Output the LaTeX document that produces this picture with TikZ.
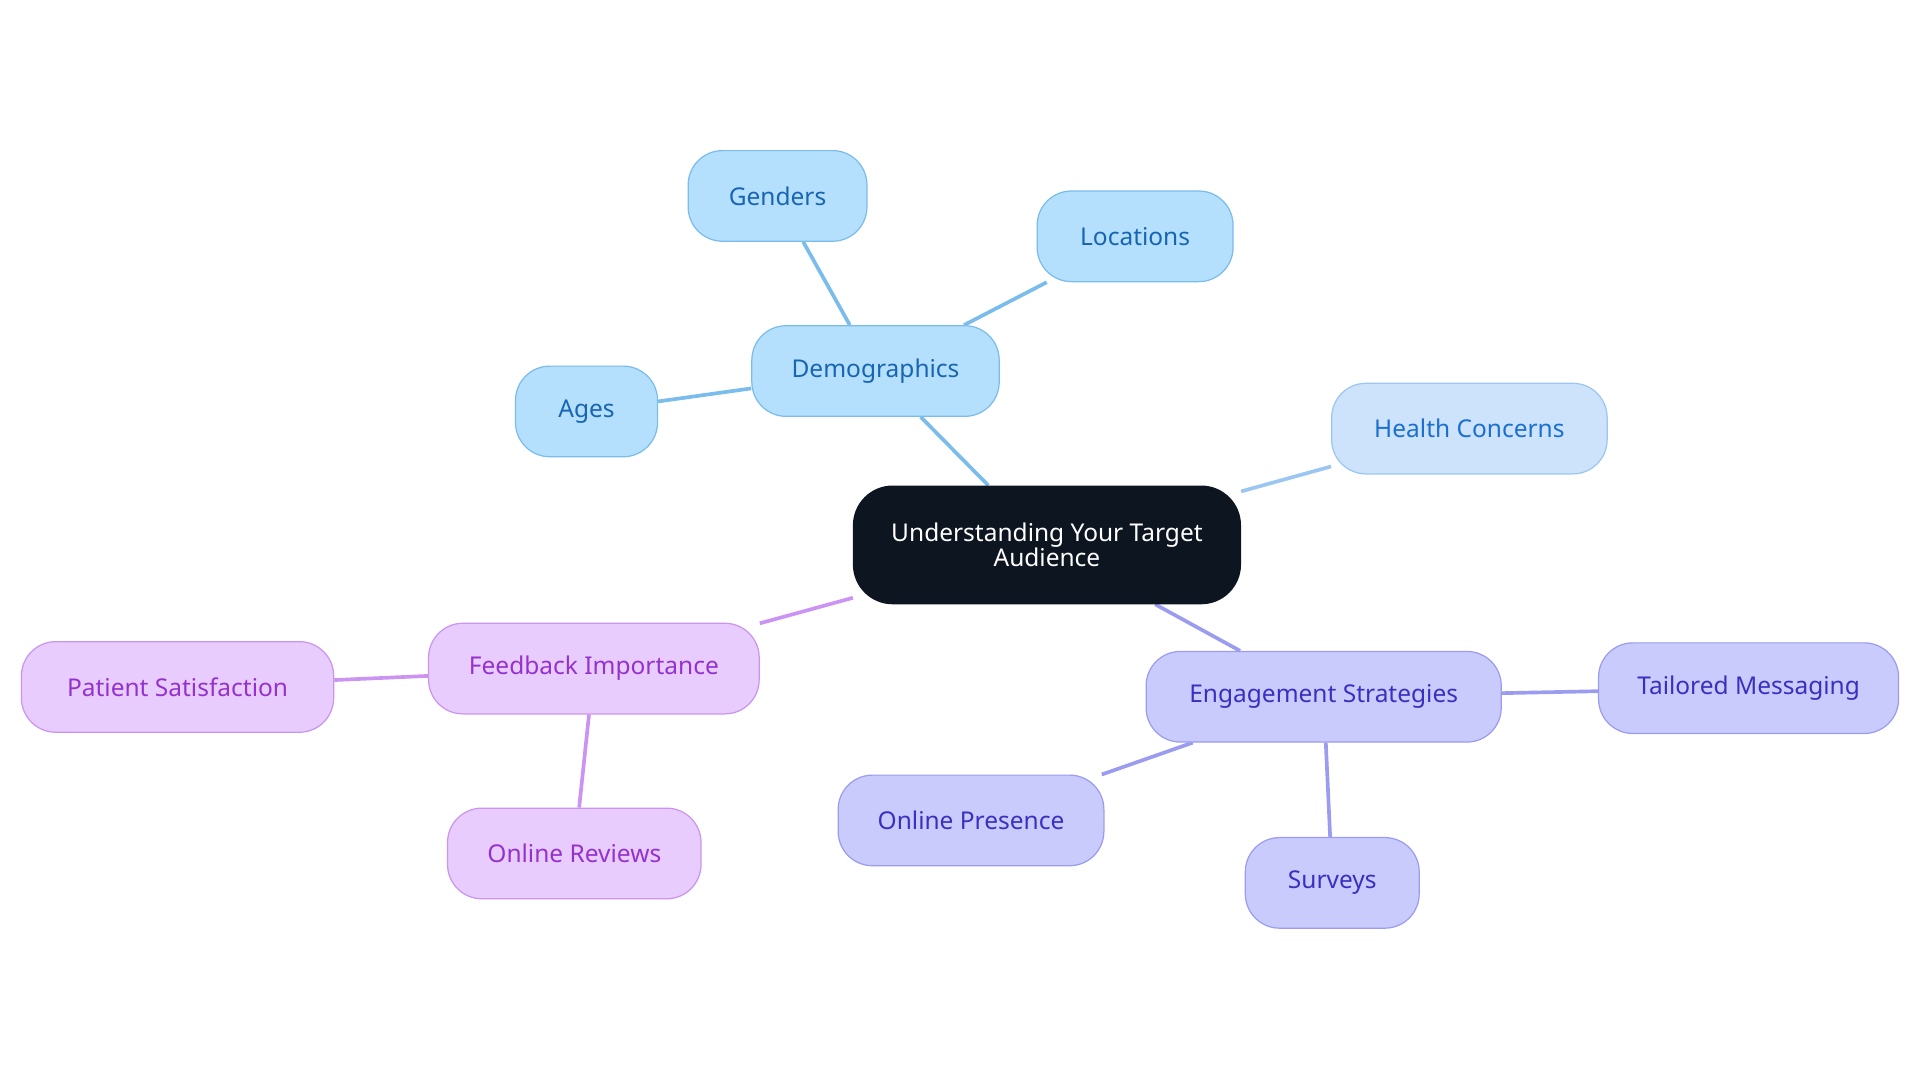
\documentclass[tikz,border=0pt]{standalone}
\usepackage{fontspec}
\setmainfont{Noto Sans}
\usetikzlibrary{backgrounds}
\definecolor{bf}{HTML}{B5E0FD}\definecolor{bs}{HTML}{7ABCEB}\definecolor{bt}{HTML}{1765B3}
\definecolor{hf}{HTML}{CCE3FB}\definecolor{hs}{HTML}{9CC6F2}\definecolor{ht}{HTML}{1A6FD0}
\definecolor{ef}{HTML}{C9CBFD}\definecolor{es}{HTML}{9B9CF0}\definecolor{et}{HTML}{3A2FC0}
\definecolor{ff}{HTML}{E8CCFD}\definecolor{fs}{HTML}{CB94F2}\definecolor{ft}{HTML}{9531CF}
\definecolor{cf}{HTML}{0D1520}
\begin{document}
\begin{tikzpicture}[x=1pt,y=-1pt,
 n/.style={draw,line width=1pt,rounded corners=28pt,minimum height=74pt,inner sep=0pt,font=\fontsize{20}{24}\selectfont,align=center},
 b/.style={n,fill=bf,draw=bs,text=bt},
 h/.style={n,fill=hf,draw=hs,text=ht},
 e/.style={n,fill=ef,draw=es,text=et},
 f/.style={n,fill=ff,draw=fs,text=ft},
 l/.style={line width=3pt}]
\useasboundingbox (0,0) rectangle (1568,884);
\node[n,fill=cf,draw=cf,text=white,minimum width=316pt,minimum height=96pt,rounded corners=32pt] (c) at (855,445) {Understanding Your Target\\[-3pt]Audience};
\node[b,minimum width=202pt] (d) at (715,303) {Demographics};
\node[b,minimum width=146pt] (g) at (635,160) {Genders};
\node[b,minimum width=160pt] (lo) at (927,193) {Locations};
\node[b,minimum width=116pt] (a) at (479,336) {Ages};
\node[h,minimum width=225pt] (hc) at (1200,350) {Health Concerns};
\node[e,minimum width=290pt] (es) at (1081,569) {Engagement Strategies};
\node[e,minimum width=245pt] (tm) at (1428,562) {Tailored Messaging};
\node[e,minimum width=217pt] (op) at (793,670) {Online Presence};
\node[e,minimum width=142pt] (s) at (1088,721) {Surveys};
\node[f,minimum width=270pt] (fi) at (485,546) {Feedback Importance};
\node[f,minimum width=255pt] (ps) at (145,561) {Patient Satisfaction};
\node[f,minimum width=207pt] (or) at (469,697) {Online Reviews};
\begin{scope}[on background layer]
\draw[l,bs] (c)--(d) (d)--(g) (d)--(lo) (d)--(a);
\draw[l,hs] (c)--(hc);
\draw[l,es] (c)--(es) (es)--(tm) (es)--(op) (es)--(s);
\draw[l,fs] (c)--(fi) (fi)--(ps) (fi)--(or);
\end{scope}
\end{tikzpicture}
\end{document}
